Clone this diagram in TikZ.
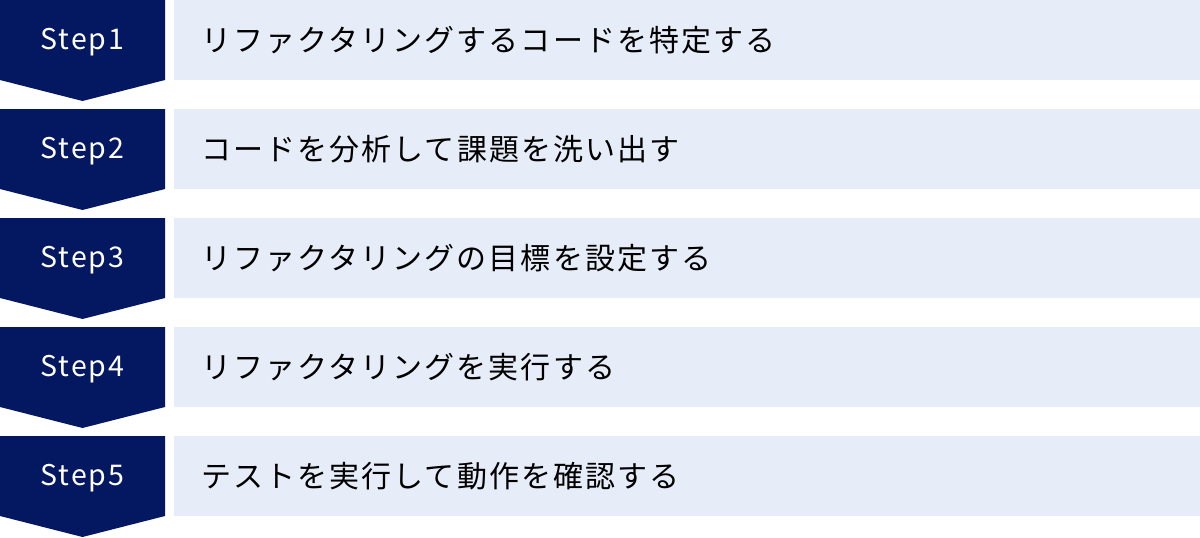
\documentclass[tikz,border=0pt]{standalone}
\usepackage{fontspec}
\usepackage{xcolor}
\setmainfont{Noto Sans CJK JP}
\newfontfamily\jpfont[LetterSpace=7]{Noto Sans CJK JP}
\newfontfamily\stepfont[LetterSpace=7]{Noto Sans CJK JP}
\usetikzlibrary{positioning}
\definecolor{stepnavy}{HTML}{041862}
\definecolor{tasklight}{HTML}{E6ECF8}

\begin{document}
\begin{tikzpicture}[
  x=1pt, y=-1pt,
  chevron/.style={fill=stepnavy},
  steplabel/.style={inner sep=0pt, text=white, font=\stepfont\fontsize{28.5pt}{34pt}\selectfont},
  taskbox/.style={rectangle, fill=tasklight, minimum height=80pt, inner xsep=27pt, inner ysep=0pt, text width=972pt, align=left, anchor=north west, text=black, font=\jpfont\fontsize{30pt}{36pt}\selectfont},
]
\useasboundingbox (0,0) rectangle (1200,538);

% Step 1
\fill[chevron] (0,0) -- (165,0) -- (165,80) -- (82.5,101) -- (0,80) -- cycle;
\node[steplabel] (s1) at (82.5,42) {Step1};
\node[taskbox] (t1) at (174,0) {リファクタリングするコードを特定する};

% Step 2
\fill[chevron] (0,109) -- (165,109) -- (165,189) -- (82.5,210) -- (0,189) -- cycle;
\node[steplabel] (s2) at (82.5,151) {Step2};
\node[taskbox] (t2) at (174,109) {コードを分析して課題を洗い出す};

% Step 3
\fill[chevron] (0,218) -- (165,218) -- (165,298) -- (82.5,319) -- (0,298) -- cycle;
\node[steplabel] (s3) at (82.5,260) {Step3};
\node[taskbox] (t3) at (174,218) {リファクタリングの目標を設定する};

% Step 4
\fill[chevron] (0,327) -- (165,327) -- (165,407) -- (82.5,428) -- (0,407) -- cycle;
\node[steplabel] (s4) at (82.5,369) {Step4};
\node[taskbox] (t4) at (174,327) {リファクタリングを実行する};

% Step 5
\fill[chevron] (0,436) -- (165,436) -- (165,516) -- (82.5,537) -- (0,516) -- cycle;
\node[steplabel] (s5) at (82.5,478) {Step5};
\node[taskbox] (t5) at (174,436) {テストを実行して動作を確認する};

\end{tikzpicture}
\end{document}
